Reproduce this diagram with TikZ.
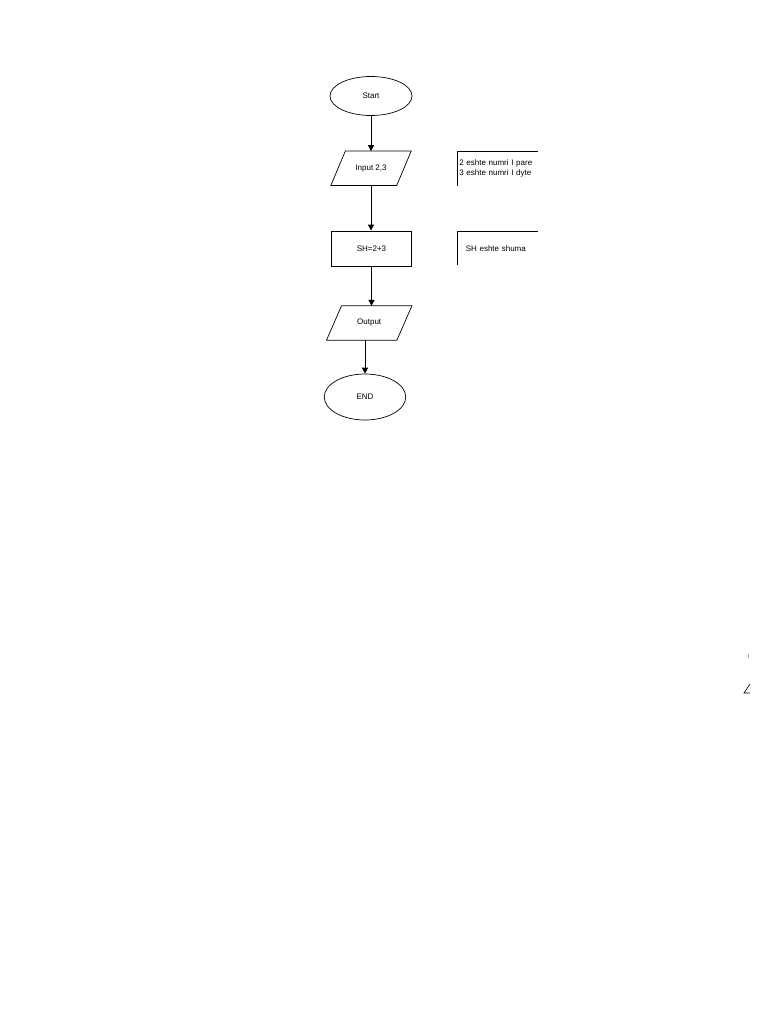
\documentclass[tikz,border=0pt]{standalone}
\usepackage{fontspec}
\setmainfont{Liberation Sans}
\usetikzlibrary{shapes.geometric,arrows.meta}
\begin{document}
\begin{tikzpicture}[x=1pt,y=-1pt,
  every node/.style={font=\fontsize{8}{10}\selectfont},
  line/.style={draw=black,line width=1pt},
  arr/.style={line,-{Triangle[length=6pt,width=6pt]}},
  term/.style={ellipse,draw=black,line width=0.7pt,inner sep=0pt},
  proc/.style={rectangle,draw=black,line width=1pt,minimum width=80pt,minimum height=35.5pt,inner sep=0pt},
  iobox/.style={rectangle,inner sep=0pt,minimum height=34pt},
  note/.style={rectangle,minimum width=80pt,text width=76pt,inner sep=2pt,align=left}
]
\useasboundingbox (0,0) rectangle (768,1024);

\node[term,minimum width=82pt,minimum height=39pt] (start) at (371,96) {Start};

\node[iobox,minimum width=65.5pt] (in) at (371,168.3) {Input 2,3};
\draw[line width=0.7pt] ([xshift=7.25pt]in.north west) -- ([xshift=7.25pt]in.north east)
  -- ([xshift=-7.25pt]in.south east) -- ([xshift=-7.25pt]in.south west) -- cycle;

\node[proc] (sum) at (371.5,248.8) {SH=2+3};

\node[iobox,minimum width=70pt] (out) at (369.2,323) {Output};
\draw[line width=0.7pt] ([xshift=7.5pt]out.north west) -- ([xshift=7.5pt]out.north east)
  -- ([xshift=-7.5pt]out.south east) -- ([xshift=-7.5pt]out.south west) -- cycle;

\node[term,minimum width=81.5pt,minimum height=46pt] (end) at (365,397) {END};

\draw[arr] (start.south -| in.north) -- (in.north);
\draw[arr] (in.south) -- (in.south |- sum.north);
\draw[arr] (sum.south) -- (sum.south |- out.north);
\draw[arr] (end.north |- out.south) -- (end.north);

\node[note,minimum height=34.3pt] (n1) at (497.3,168.8) {2 eshte numri I pare\\3 eshte numri I dyte};
\draw[line width=1pt] (n1.north east) -- (n1.north west) -- (n1.south west);

\node[note,minimum height=33.3pt] (n2) at (497.3,248.3) {\hspace*{6.5pt}SH eshte shuma};
\draw[line width=1pt] (n2.north east) -- (n2.north west) -- (n2.south west);

\coordinate (m1) at (748.5,654);
\coordinate (m2) at (748.5,658);
\draw[gray!70,line width=0.6pt] (m1) -- (m2);
\coordinate (z1) at (750,684);
\coordinate (z2) at (744,693);
\coordinate (z3) at (750,693);
\draw[line width=0.6pt] (z1) -- (z2) -- (z3);
\end{tikzpicture}
\end{document}
